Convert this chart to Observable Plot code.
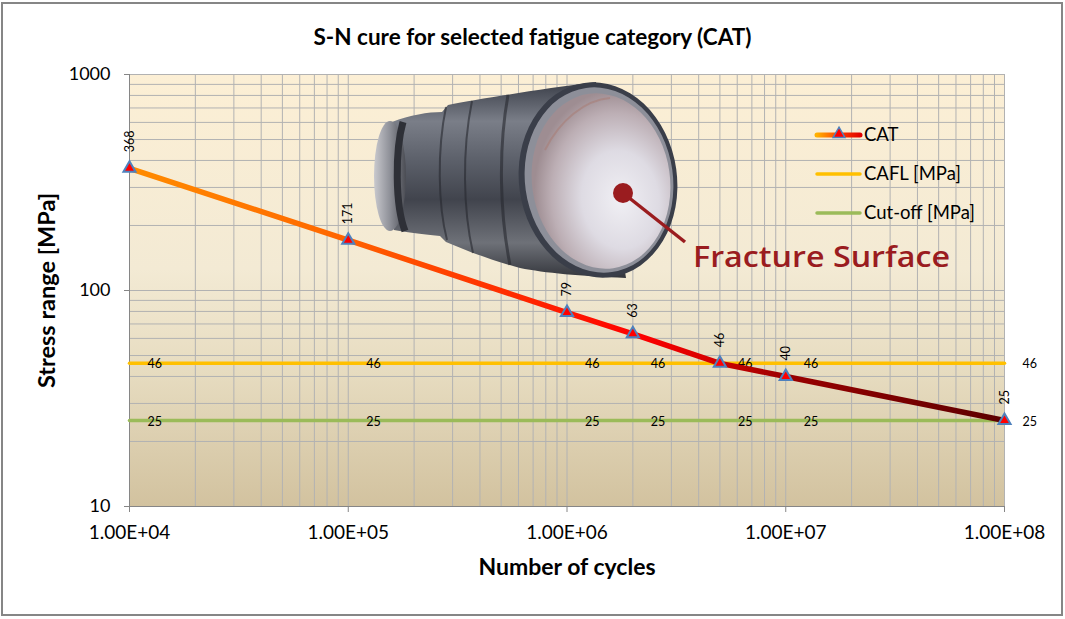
<!DOCTYPE html>
<html>
<head>
<meta charset="utf-8">
<script src="https://cdn.jsdelivr.net/npm/d3@7"></script>
<script src="https://cdn.jsdelivr.net/npm/@observablehq/plot@0.6"></script>
<style>
  body { margin: 0; background: #fff; }
  #chart { position: relative; width: 1065px; height: 619px; overflow: hidden; font-family: Lato, "Open Sans", sans-serif; }
  #title { height: 56px; box-sizing: border-box; padding-top: 26px; line-height: 22px; text-align: center; font-weight: bold; font-size: 22.5px; color: #000; }
  #border { position: absolute; left: 1px; top: 2px; width: 1062px; height: 614px; box-sizing: border-box; border: 2.5px solid #868686; pointer-events: none; }
  svg { display: block; }
</style>
</head>
<body>
<div id="chart">
  <div id="title">S-N cure for selected fatigue category (CAT)</div>
  <div id="plot"></div>
  <div id="border"></div>
</div>
<script>
// ---- data ----
const catCycles = [1e4, 1e5, 1e6, 2e6, 5e6, 1e7, 1e8];
const catStress = [368, 171, 79, 63, 46, 40, 25];
const caflCycles = [1e4, 1e5, 1e6, 2e6, 5e6, 1e7, 1e8];
const caflStress = [46, 46, 46, 46, 46, 46, 46];
const cutoffCycles = [1e4, 1e5, 1e6, 2e6, 5e6, 1e7, 1e8];
const cutoffStress = [25, 25, 25, 25, 25, 25, 25];
const seriesNames = ["CAT", "CAFL [MPa]", "Cut-off [MPa]"];
const xTicks = [1e4, 1e5, 1e6, 1e7, 1e8];
const xTickLabels = ["1.00E+04", "1.00E+05", "1.00E+06", "1.00E+07", "1.00E+08"];
const yTicks = [10, 100, 1000];
const yTickLabels = ["10", "100", "1000"];
const xTitle = "Number of cycles";
const yTitle = "Stress range [MPa]";
const annotation = "Fracture Surface";

// grid positions (1..9 x each decade)
const xGrid = [];
for (let e = 4; e < 8; e++) for (let m = 1; m < 10; m++) xGrid.push(m * 10 ** e);
xGrid.push(1e8);
const yGrid = [];
for (let e = 1; e < 3; e++) for (let m = 1; m < 10; m++) yGrid.push(m * 10 ** e);
yGrid.push(1000);

const cat = catCycles.map((c, i) => ({cycles: c, stress: catStress[i]}));
const cafl = caflCycles.map((c, i) => ({cycles: c, stress: caflStress[i]}));
const cutoff = cutoffCycles.map((c, i) => ({cycles: c, stress: cutoffStress[i]}));

const TOP = 56; // svg offset in page

const plot = Plot.plot({
  width: 1065,
  height: 563,
  marginLeft: 129,
  marginRight: 61,
  marginTop: 18,
  marginBottom: 113,
  style: {fontFamily: "Lato, sans-serif", background: "transparent", overflow: "visible", color: "#000"},
  x: {type: "log", domain: [1e4, 1e8]},
  y: {type: "log", domain: [10, 1000]},
  marks: [
    Plot.frame({fill: "url(#bgGrad)", stroke: null}),
    Plot.gridY(yGrid, {stroke: "#b2b2b2", strokeOpacity: 1, strokeWidth: 1}),
    Plot.gridX(xGrid, {stroke: "#b2b2b2", strokeOpacity: 1, strokeWidth: 1}),
    Plot.ruleY([10], {stroke: "#868686"}),
    Plot.ruleX([1e4], {stroke: "#868686"}),
    Plot.axisX(xTicks, {tickFormat: d => xTickLabels[xTicks.indexOf(d)], tickSize: 6, tickPadding: 13, fontSize: 19, stroke: "#868686", fill: "#000", label: null}),
    Plot.axisY(yTicks, {tickFormat: d => yTickLabels[yTicks.indexOf(d)], tickSize: 5, tickPadding: 14, fontSize: 18, stroke: "#868686", fill: "#000", label: null}),
    Plot.text([xTitle], {frameAnchor: "bottom", dy: 61, fontSize: 23, fontWeight: "bold", textAnchor: "middle", lineAnchor: "middle"}),
    Plot.text([yTitle], {frameAnchor: "left", dx: -82, rotate: -90, fontSize: 23.5, fontWeight: "bold", textAnchor: "middle", lineAnchor: "middle"}),
    Plot.line(cafl, {x: "cycles", y: "stress", stroke: "#ffc000", strokeWidth: 3.5}),
    Plot.line(cutoff, {x: "cycles", y: "stress", stroke: "#9bbb59", strokeWidth: 3.5}),
    Plot.text(cafl, {x: "cycles", y: "stress", text: d => String(d.stress), dx: 18, dy: 1, textAnchor: "start", fontSize: 12.5, fill: "#000"}),
    Plot.text(cutoff, {x: "cycles", y: "stress", text: d => String(d.stress), dx: 18, dy: 1, textAnchor: "start", fontSize: 12.5, fill: "#000"}),
    Plot.line(cat, {x: "cycles", y: "stress", stroke: "url(#catGrad)", strokeWidth: 5.5, strokeLinecap: "butt"}),
    Plot.dot(cat, {x: "cycles", y: "stress", symbol: "triangle", r: 4.5, fill: "#ff0000", stroke: "#4f81bd", strokeWidth: 2}),
    Plot.text(cat, {x: "cycles", y: "stress", text: d => String(d.stress), rotate: -90, textAnchor: "start", lineAnchor: "middle", dy: -16, fontSize: 12.5, fill: "#000"})
  ]
});
document.getElementById("plot").appendChild(plot);

const svg = d3.select(plot);
const defs = svg.insert("defs", ":first-child");
const bg = defs.append("linearGradient").attr("id", "bgGrad").attr("x1", 0).attr("y1", 0).attr("x2", 0).attr("y2", 1);
[[0, "#fcefd5"], [0.45, "#f3ead4"], [0.7, "#e6dbbf"], [1, "#d2c29f"]].forEach(([o, c]) => bg.append("stop").attr("offset", o).attr("stop-color", c));
const cg = defs.append("linearGradient").attr("id", "catGrad").attr("gradientUnits", "userSpaceOnUse").attr("x1", 129).attr("y1", 0).attr("x2", 1004).attr("y2", 0);
[[0, "#ff8c00"], [0.22, "#ff6a00"], [0.42, "#ff3000"], [0.58, "#ff0000"], [0.66, "#d80000"], [0.75, "#9a0000"], [1, "#5c0000"]].forEach(([o, c]) => cg.append("stop").attr("offset", o).attr("stop-color", c));
const lg = defs.append("linearGradient").attr("id", "legGrad").attr("gradientUnits", "userSpaceOnUse").attr("x1", 817).attr("y1", 0).attr("x2", 861).attr("y2", 0);
[[0, "#ffb000"], [0.5, "#ff4000"], [1, "#e00000"]].forEach(([o, c]) => lg.append("stop").attr("offset", o).attr("stop-color", c));
const bodyG = defs.append("linearGradient").attr("id", "bodyGrad").attr("x1", 0).attr("y1", 0).attr("x2", 0).attr("y2", 1);
[[0, "#3a3e48"], [0.2, "#7a7e88"], [0.4, "#5c606a"], [0.6, "#41444d"], [0.82, "#6e7178"], [1, "#34363c"]].forEach(([o, c]) => bodyG.append("stop").attr("offset", o).attr("stop-color", c));
const endG = defs.append("linearGradient").attr("id", "endGrad").attr("x1", 0).attr("y1", 0).attr("x2", 1).attr("y2", 0);
[[0, "#c9c9ce"], [0.5, "#8e9098"], [1, "#4a4c53"]].forEach(([o, c]) => endG.append("stop").attr("offset", o).attr("stop-color", c));
const faceG = defs.append("radialGradient").attr("id", "faceGrad").attr("cx", 0.62).attr("cy", 0.62).attr("r", 0.62);
[[0, "#f0eff4"], [0.45, "#dedbe3"], [0.8, "#bcaeb4"], [1, "#9e8d92"]].forEach(([o, c]) => faceG.append("stop").attr("offset", o).attr("stop-color", c));

// photo-like decoration (bolt), placed under the data lines
const anchor = svg.select('g[stroke="#ffc000"]').node();
const photo = d3.create("svg:g").attr("transform", `translate(0,${-TOP})`);
photo.append("path")
  .attr("d", "M392,122 C410,115 428,112 442,112 L448,105 C480,99 540,89 596,82 L626,278 C580,276 545,273 520,268 C490,260 465,250 446,242 L440,236 C420,234 405,232 394,230 Z")
  .attr("fill", "url(#bodyGrad)");
photo.append("ellipse").attr("cx", 390).attr("cy", 176).attr("rx", 16).attr("ry", 55).attr("fill", "url(#endGrad)");
photo.append("path").attr("d", "M403,122 C395,150 395,205 405,231").attr("fill", "none").attr("stroke", "#2e3037").attr("stroke-width", 7);
[["M446,107 C437,150 438,205 447,240", 2], ["M472,101 C462,150 463,210 473,253", 2], ["M508,95 C498,150 500,215 510,265", 3]].forEach(([d, w]) =>
  photo.append("path").attr("d", d).attr("fill", "none").attr("stroke", "#26282e").attr("stroke-width", w).attr("opacity", 0.6));
photo.append("ellipse").attr("cx", 598).attr("cy", 180).attr("rx", 79).attr("ry", 98).attr("transform", "rotate(-8 598 180)").attr("fill", "#3a3e49");
photo.append("ellipse").attr("cx", 599).attr("cy", 180).attr("rx", 74).attr("ry", 93).attr("transform", "rotate(-8 599 180)").attr("fill", "#8d8f99");
photo.append("ellipse").attr("cx", 601).attr("cy", 181).attr("rx", 69).attr("ry", 88).attr("transform", "rotate(-8 601 181)").attr("fill", "url(#faceGrad)");
photo.append("path").attr("d", "M545,150 C560,120 585,100 610,98").attr("fill", "none").attr("stroke", "#a87f78").attr("stroke-width", 2).attr("opacity", 0.6);
if (anchor) plot.insertBefore(photo.node(), anchor); else plot.appendChild(photo.node());

// annotation + legend on top
const over = svg.append("g").attr("transform", `translate(0,${-TOP})`).attr("text-anchor", "start");
over.append("line").attr("x1", 623).attr("y1", 193).attr("x2", 685).attr("y2", 242).attr("stroke", "#9a1c1f").attr("stroke-width", 3.5);
over.append("circle").attr("cx", 623).attr("cy", 193).attr("r", 10).attr("fill", "#9a1c1f");
over.append("text").attr("x", 693).attr("y", 267).attr("text-anchor", "start").attr("font-family", "'Open Sans', sans-serif").attr("font-weight", 600)
  .attr("font-size", 29).attr("fill", "#9a1c1f").attr("textLength", 257).attr("lengthAdjust", "spacingAndGlyphs").text(annotation);

const legendY = [135, 174, 213];
const legendStroke = ["url(#legGrad)", "#ffc000", "#9bbb59"];
seriesNames.forEach((name, i) => {
  over.append("line").attr("x1", 817).attr("x2", 860).attr("y1", legendY[i]).attr("y2", legendY[i])
    .attr("stroke", legendStroke[i]).attr("stroke-width", i === 0 ? 5 : 3.5).attr("stroke-linecap", "round");
  if (i === 0) over.append("path").attr("d", d3.symbol(d3.symbolTriangle, 60)()).attr("transform", `translate(839,${legendY[i] - 1})`)
    .attr("fill", "#ff0000").attr("stroke", "#4f81bd").attr("stroke-width", 1.5);
  over.append("text").attr("x", 864).attr("y", legendY[i]).attr("dy", "0.35em").attr("text-anchor", "start").attr("font-size", 18.5).attr("fill", "#000").text(name);
});
</script>
</body>
</html>
